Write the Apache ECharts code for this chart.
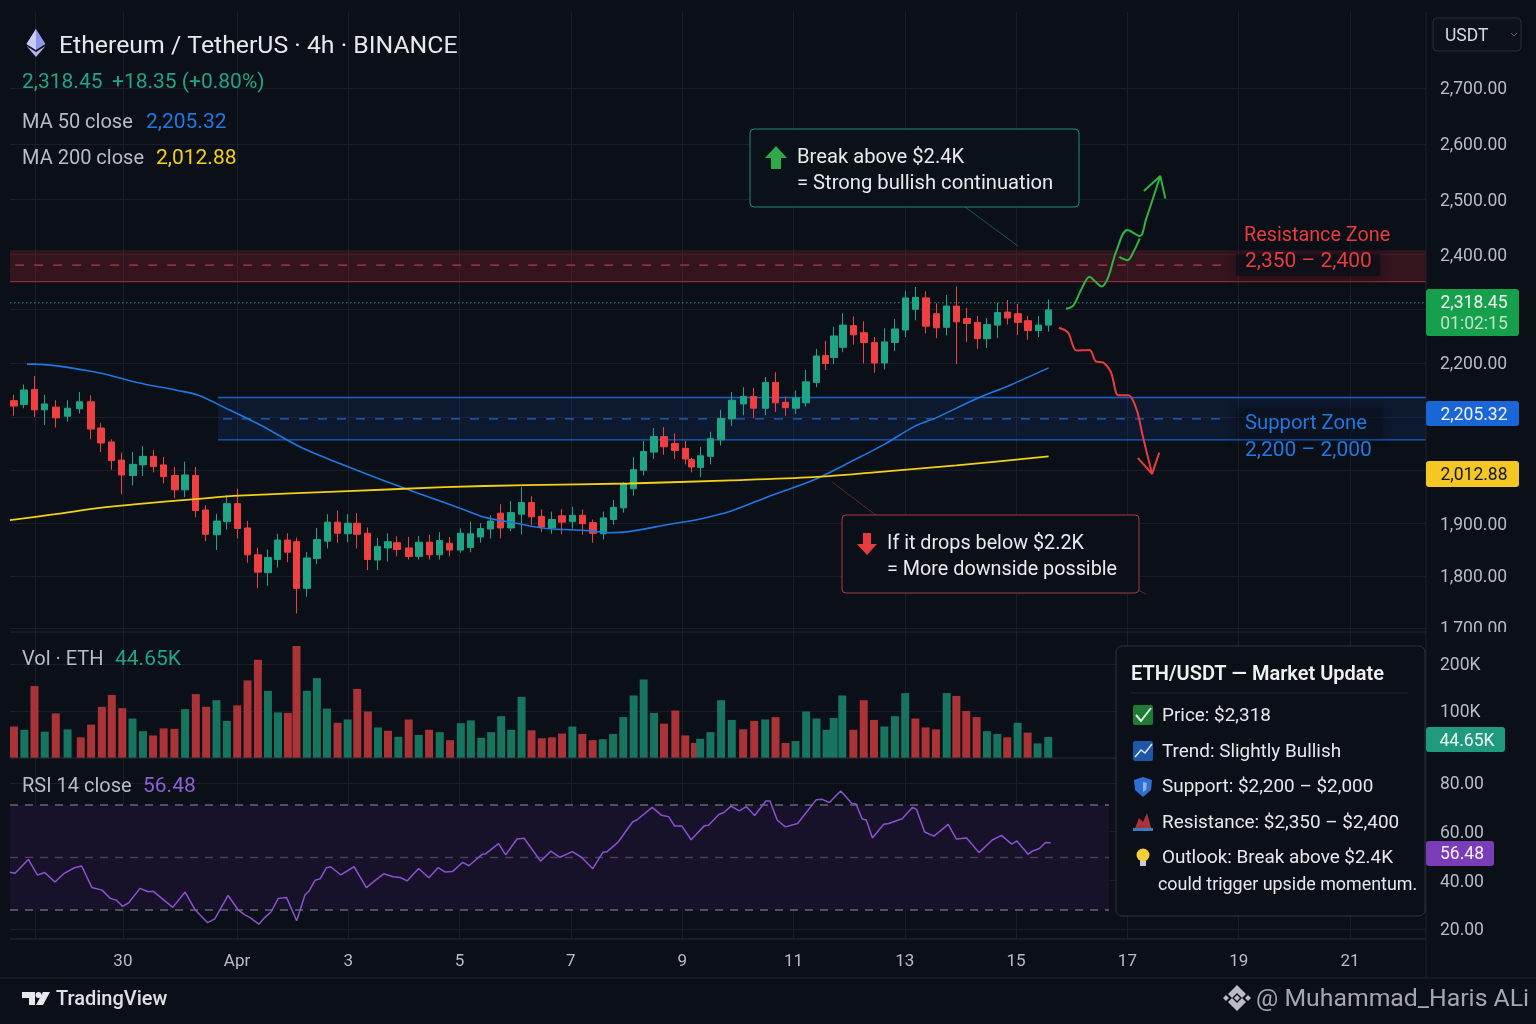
<!DOCTYPE html>
<html><head><meta charset="utf-8"><title>ETH/USDT</title>
<script src="https://cdn.jsdelivr.net/npm/echarts@6/dist/echarts.min.js"></script>
<style>html,body{margin:0;padding:0;background:#0b0f18}#c{width:1536px;height:1024px}</style></head>
<body><div id="c"></div>
<script>
// [open, close, low, high]
const candles = [
[2130,2120,2102,2141],[2123,2150,2116,2160],[2151,2113,2100,2176],[2113,2124,2085,2141],[2118,2098,2080,2131],[2101,2116,2091,2131],[2115,2128,2106,2146],[2128,2077,2058,2140],[2079,2051,2034,2088],[2053,2018,2001,2058],
[2019,1991,1955,2033],[1990,2011,1971,2034],[2010,2026,1989,2045],[2026,2007,1996,2038],[2010,1988,1975,2025],[1990,1963,1947,2006],[1963,1991,1949,2016],[1990,1924,1911,2006],[1925,1879,1866,1934],[1878,1904,1849,1918],
[1903,1937,1888,1953],[1937,1890,1871,1965],[1891,1840,1825,1904],[1840,1807,1776,1853],[1806,1835,1781,1850],[1831,1868,1816,1880],[1868,1845,1826,1881],[1865,1776,1728,1873],[1776,1834,1760,1845],[1833,1869,1822,1891],
[1866,1902,1852,1917],[1902,1881,1863,1924],[1880,1900,1864,1917],[1900,1879,1852,1919],[1881,1831,1811,1892],[1830,1856,1811,1872],[1853,1865,1827,1881],[1863,1850,1837,1875],[1853,1837,1831,1874],[1837,1864,1831,1876],
[1864,1840,1831,1878],[1840,1867,1831,1883],[1862,1849,1837,1874],[1849,1881,1844,1890],[1854,1880,1845,1903],[1874,1890,1863,1900],[1889,1904,1871,1915],[1919,1891,1871,1936],[1891,1920,1885,1942],[1917,1939,1879,1968],
[1939,1912,1897,1951],[1913,1893,1883,1926],[1891,1907,1880,1922],[1914,1902,1879,1927],[1903,1915,1890,1931],[1915,1899,1878,1926],[1901,1881,1863,1907],[1880,1910,1869,1922],[1907,1930,1897,1944],[1929,1975,1920,1978],
[1965,2001,1952,2025],[2000,2035,1990,2055],[2034,2063,2021,2079],[2063,2044,2029,2081],[2050,2037,2021,2069],[2041,2021,2011,2055],[2020,2006,1996,2023],[2005,2027,1987,2044],[2026,2059,2011,2072],[2057,2097,2046,2113],
[2096,2131,2083,2146],[2124,2138,2103,2155],[2138,2116,2097,2154],[2116,2164,2103,2174],[2164,2126,2109,2183],[2127,2117,2102,2138],[2116,2135,2105,2149],[2126,2165,2119,2187],[2164,2213,2155,2226],[2214,2199,2187,2241],
[2210,2250,2198,2267],[2229,2270,2220,2292],[2269,2252,2234,2286],[2256,2238,2199,2277],[2238,2200,2182,2248],[2200,2239,2188,2264],[2238,2263,2222,2281],[2261,2320,2248,2333],[2299,2321,2279,2340],[2320,2268,2255,2332],
[2291,2265,2246,2310],[2266,2305,2251,2325],[2305,2276,2198,2341],[2282,2273,2239,2302],[2275,2245,2226,2287],[2245,2271,2228,2283],[2270,2293,2246,2311],[2294,2283,2271,2316],[2291,2275,2252,2309],[2278,2260,2243,2287],
[2260,2270,2248,2287],[2270,2298,2258,2317]];
// horizontal position of each candle, in bar units
const candleBars = [0,1,2,3,4.1,5.2,6.4,7.5,8.5,9.5,10.5,11.6,12.6,13.6,14.6,15.7,16.7,17.7,18.7,19.8,20.8,21.8,22.8,23.8,24.8,25.7,26.7,27.6,28.6,29.6,30.6,31.6,32.6,33.5,34.5,35.5,36.5,37.4,
38.56,39.54,40.55,41.55,42.53,43.57,44.55,45.56,46.53,47.51,48.52,49.53,50.5,51.51,52.52,53.5,54.5,55.51,56.52,57.53,58.54,59.52,60.49,61.47,62.48,63.45,64.53,65.54,66.15,67,68,69.02,70.1,71.2,72.2,73.35,74.36,
75.33,76.34,77.31,78.32,79.2,80.05,80.93,81.97,82.98,84,85,86,87.04,88.02,89.03,90.04,91.05,92.02,93.03,94.04,94.98,96,97,98.01,99,100,101];

// volume in thousands, 1 = rising bar
const volumes = [67,60,153,56,95,61,44,71,109,134,106,84,57,48,63,62,104,136,109,123,79,112,165,209,143,97,96,238,143,170,105,75,82,147,99,65,58,45,82,49,60,55,38,74,80,43,55,89,60,130,59,42,44,
52,67,51,38,40,51,87,133,167,96,73,101,48,32,41,55,123,81,61,79,82,87,32,36,99,84,60,85,133,60,123,81,67,89,138,84,65,61,138,132,100,87,57,51,44,75,54,31,44.65];
const volumeUp = [0,1,0,1,0,1,0,0,0,0,0,1,1,0,0,0,1,0,0,1,1,0,0,0,1,1,0,0,1,1,1,0,1,0,0,1,0,1,0,1,0,1,0,1,1,1,1,1,1,1,0,0,0,
0,1,0,0,1,1,1,1,1,1,0,0,0,0,1,1,1,1,0,0,1,0,0,1,1,1,1,1,1,0,0,0,1,1,1,0,0,0,1,0,0,0,1,1,0,1,0,1,1];
const volumeBars = [0,1.01,2,3,4.08,5.23,6.52,7.53,8.58,9.55,10.57,11.57,12.59,13.57,14.61,15.66,16.7,17.75,18.76,19.77,20.78,21.79,22.8,23.81,24.79,25.77,26.74,27.58,28.59,29.57,30.55,31.59,32.57,33.51,34.55,35.53,36.51,37.52,38.53,39.51,40.52,41.56,42.57,43.62,44.6,45.61,46.58,47.56,48.54,49.55,50.52,51.53,52.51,
53.5,54.51,55.48,56.49,57.47,58.48,59.48,60.49,61.47,62.48,63.45,64.56,65.53,66.48,66.98,67.99,69.03,70.07,71.18,72.26,73.33,74.34,75.32,76.29,77.33,78.34,79.32,80.02,80.86,81.94,82.95,83.95,84.96,86,87,87.99,88.99,90,91.05,91.99,92.96,93.97,94.98,95.99,96.96,97.97,98.95,99.92,100.96];

const ma50Bars = [1.27,2,8,12,16,18,21,24,28,32,36,40,44,46,49,52,56,58,60,64,67,70,74,78,82,85,88,90,94,97,101];
const ma50Values = [2198,2198,2183,2164,2149,2140,2113,2085,2043,2011,1981,1953,1925,1911,1900,1890,1886,1882,1884,1898,1908,1923,1953,1981,2019,2049,2083,2098,2134,2157,2191];
const ma200Bars = [-0.39,4,8,12,18,22,32,42,50,60,70,78,84,92,101];
const ma200Values = [1906,1917,1928,1936,1946,1952,1960,1968,1972,1975,1981,1987,1996,2009,2026];

const rsiBars = [-0.39,0.1,1.4,2.3,3,4,4.9,5.9,6.6,7.6,8.6,9.4,10,10.6,11.2,12.3,13.1,13.6,15.5,16.7,17.7,18.9,19.6,20.9,21.9,22.5,23,23.9,24.5,25.1,25.8,26.6,27.6,28.4,28.8,29.4,29.9,30.5,30.9,31.9,33.2,34.4,35.2,36.1,37,37.7,38.4,39.5,40.5,41.4,42.1,42.8,43.8,44.4,45.7,46,47.3,48,49.1,49.8,51.4,52.4,53.3,54.5,55.4,56.5,57.5,57.9,58.7,59,60.4,60.8,62.3,63.2,63.9,64.5,65.2,66.1,67.4,67.8,68.8,69.3,70,70.8,71.5,72.3,73.4,73.8,74.5,75.3,76.5,78.3,78.9,79.6,80.7,81.8,82.2,82.8,83.2,83.8,84.9,85.4,86.7,87.7,88.1,88.9,89.8,91.2,92,93,94.2,95.5,96.4,97.4,97.9,99,99.4,100.1,100.7,101.2];
const rsiValues = [43.3,42.9,48.6,42.2,43.2,39.3,42.9,45.2,45.9,37.1,36,32.6,31.8,29.3,30.8,36.7,35.3,35.5,28.9,35.2,27.8,22.6,24.2,33.8,27.8,25.9,24.8,22,24.8,27.1,32.6,33,23.4,34,35.6,40.1,40.7,45.2,45.6,42.3,45.6,37,39.8,42.7,41.5,41.2,39.8,44.9,41.1,45.2,43.4,43.6,47.4,46,50.7,50.8,55.1,50.5,57,57.3,47.9,52,49.5,51.8,49.5,44.8,51.6,51.8,54.7,55.9,64.1,64.8,70,66.8,66.2,62.3,62.3,56.7,62.5,62.7,67.1,67.9,70.5,68.6,70.3,66.7,72.6,72.6,64.8,62,63.4,73.1,73.3,72,76.7,71.6,71.4,65.2,64.8,57.4,63.1,63.4,65.3,70,69.2,59.9,58.2,63,57,57.4,51.4,56.6,58.5,54.9,56.2,50.7,52,53.1,55.6,55.5];

const priceTicks = [2700,2600,2500,2400,2300,2200,2100,2000,1900,1800,1700];
const volumeTicks = [100,200];
const rsiTicks = [20,40,60,80];
const rsiGuides = [70,50,30];
const dayTicks = [-0.05,2,4,6,8,10,12,14,16,18,20,22];
const dayLabels = ['30','Apr','3','5','7','9','11','13','15','17','19','21'];

const resistanceZone = {low:2350, high:2407, mid:2380};
const supportZone = {low:2057, high:2136, mid:2096};
const lastPriceLine = 2311;

const bullBars = [102.7,103.4,104.2,105,105.5,106.2,106.8,107.6,108.7,109.9,110.5,111.9];
const bullPrices = [2300,2306,2336,2359,2351,2341,2357,2405,2444,2433,2463,2542];
const bullLoopBars = [107.9,108.7,109.3,109.9];
const bullLoopPrices = [2395,2389,2405,2429];
const bullHeadBars = [110.3,111.9,112.4];
const bullHeadPrices = [2515,2542,2501];
const bearBars = [102,102.9,103.7,105,105.6,106.3,107.1,107.8,108.8,109.6,110.2,111.1];
const bearPrices = [2265,2256,2223,2224,2203,2201,2182,2140,2140,2113,2063,1993];
const bearHeadBars = [109.7,111.1,111.8];
const bearHeadPrices = [2023,1993,2033];

// The picture's price scale is slightly stretched towards the top.
const scalePrice = p => { const x = p - 1700; return x + 3.846e-5 * x * x; };
const fmtPrice = p => p.toLocaleString('en-US',{minimumFractionDigits:2,maximumFractionDigits:2});

const BG='#0b0f18', GRID='#1a1e29', UP='#1fa585', DOWN='#ee4040', VUP='#17745f', VDOWN='#aa3338', LABEL='#b9bcc4';
const FONT='Roboto';
const XMIN=-0.39, XMAX=137.84;

const valueAxisX = (gridIndex)=>({type:'value',gridIndex,min:XMIN,max:XMAX,show:false,splitLine:{show:false}});
const xAxes = [
  {type:'value',gridIndex:3,min:-2.079,max:23.366,position:'bottom',
   axisLine:{show:false},
   axisTick:{show:false,customValues:[-1.63,...dayTicks]},
   splitLine:{show:true,lineStyle:{color:GRID,width:1}},
   axisLabel:{customValues:dayTicks,margin:14,color:LABEL,fontFamily:FONT,fontSize:17,hideOverlap:false,
     formatter:v=>dayLabels[dayTicks.indexOf(v)]}},
  valueAxisX(0),valueAxisX(1),valueAxisX(2)
];
const rightAxis=(gridIndex,min,max,ticks,formatter)=>({type:'value',gridIndex,position:'right',min,max,
  axisLine:{show:false},
  axisTick:{show:false,customValues:ticks},
  splitLine:{show:true,lineStyle:{color:GRID,width:1}},
  axisLabel:{customValues:ticks,margin:14,align:'left',verticalAlign:'top',lineHeight:4,color:LABEL,fontFamily:FONT,fontSize:17.5,formatter,showMinLabel:true,showMaxLabel:true}
});
const priceAxisTicks = priceTicks.map(scalePrice);
const yAxes=[
  {type:'value',gridIndex:3,min:0,max:1,show:false,splitLine:{show:false}},
  rightAxis(0,-7.69,1184.6,priceAxisTicks,v=>{
     let k=0,b=1e9; priceAxisTicks.forEach((t,i)=>{const d=Math.abs(t-v); if(d<b){b=d;k=i;}});
     return fmtPrice(priceTicks[k]);}),
  rightAxis(1,0,268,volumeTicks,v=>v+'K'),
  rightAxis(2,15.9,90.3,rsiTicks,v=>v.toFixed(2)),
  {type:'value',gridIndex:2,min:18.95,max:87.9,show:false,splitLine:{show:false}}
];

const pairs=(xs,ys,f=v=>v)=>xs.map((x,i)=>[x,f(ys[i])]);
const priceLine=(name,xs,ys,color,width,extra={})=>Object.assign({
  name,type:'line',xAxisIndex:1,yAxisIndex:1,data:pairs(xs,ys,scalePrice),showSymbol:false,symbol:'none',silent:true,
  lineStyle:{color,width},z:4},extra);

const zoneSeries=(name,zone,x0,color,fill,dashColor,dashX1)=>[
  {name,type:'line',xAxisIndex:1,yAxisIndex:1,symbol:'none',silent:true,z:1,
   data:[[x0,scalePrice(zone.low)],[XMAX,scalePrice(zone.low)]],lineStyle:{color,width:1.3},
   markArea:{silent:true,itemStyle:{color:fill},
     data:[[{xAxis:x0,yAxis:scalePrice(zone.low)},{xAxis:XMAX,yAxis:scalePrice(zone.high)}]]}},
  {name:name+' mid',type:'line',xAxisIndex:1,yAxisIndex:1,symbol:'none',silent:true,z:1,
   data:[[x0+0.5,scalePrice(zone.mid)],[dashX1,scalePrice(zone.mid)]],lineStyle:{color:dashColor,width:1.3,type:[9,10]}}
];

const series=[
  ...zoneSeries('Resistance',resistanceZone,XMIN,'#8e2a32','rgba(175,35,45,0.25)','#b8383e',118.7),
  ...zoneSeries('Support',supportZone,19.9,'#1f5fc2','rgba(30,90,190,0.14)','#1f66c8',118.5),
  {name:'Support top',type:'line',xAxisIndex:1,yAxisIndex:1,symbol:'none',silent:true,z:1,
   data:[[19.9,scalePrice(supportZone.high)],[XMAX,scalePrice(supportZone.high)]],lineStyle:{color:'#1f5fc2',width:1.3}},
  {name:'Last price',type:'line',xAxisIndex:1,yAxisIndex:1,symbol:'none',silent:true,z:2,
   data:[[XMIN,scalePrice(lastPriceLine)],[XMAX,scalePrice(lastPriceLine)]],lineStyle:{color:'#1f9a80',width:1,type:[1.5,2.5]}},
  {name:'ETHUSDT',type:'candlestick',xAxisIndex:1,yAxisIndex:1,barWidth:7,z:3,silent:true,
   encode:{x:0,y:[1,2,3,4]},
   data:candles.map((c,i)=>[candleBars[i],...c.map(scalePrice)]),
   itemStyle:{color:UP,color0:DOWN,borderColor:UP,borderColor0:DOWN,borderWidth:1}},
  priceLine('MA 50',ma50Bars,ma50Values,'#1f78e0',1.6,{smooth:0.3}),
  priceLine('MA 200',ma200Bars,ma200Values,'#f4cf17',1.8,{smooth:0.3}),
  priceLine('Bullish path',bullBars,bullPrices,'#2fb344',2,{smooth:0.35,z:5}),
  priceLine('Bullish loop',bullLoopBars,bullLoopPrices,'#2fb344',2,{smooth:0.35,z:5}),
  priceLine('Bullish head',bullHeadBars,bullHeadPrices,'#2fb344',2,{z:5}),
  priceLine('Bearish path',bearBars,bearPrices,'#e83c3c',2,{smooth:0.3,z:5}),
  priceLine('Bearish head',bearHeadBars,bearHeadPrices,'#e83c3c',2,{z:5}),
  {name:'Volume',type:'bar',xAxisIndex:2,yAxisIndex:2,barWidth:8,silent:true,
   data:volumes.map((v,i)=>({value:[volumeBars[i],v],itemStyle:{color:volumeUp[i]?VUP:VDOWN}}))},
  ...rsiGuides.map((g,k)=>({name:'RSI '+g,type:'line',xAxisIndex:3,yAxisIndex:4,symbol:'none',silent:true,z:1,
    data:[[XMIN,g],[106.9,g]],lineStyle:{color:g===50?'#4a4258':'#6b6478',width:1.3,type:[8,7]},
    markArea:k===0?{silent:true,itemStyle:{color:'#171129'},data:[[{xAxis:XMIN,yAxis:30},{xAxis:106.9,yAxis:70}]]}:undefined})),
  {name:'RSI',type:'line',xAxisIndex:3,yAxisIndex:3,symbol:'none',silent:true,z:3,
   data:pairs(rsiBars,rsiValues),lineStyle:{color:'#8a52d0',width:1.5}}
];

// ---------- text and furniture
const Z=100;
const t=(x,y,text,size,fill,o={})=>({type:'text',z:o.z||Z,x,y:y+2,silent:true,
  style:{text,fontFamily:FONT,fontSize:size,fill,fontWeight:o.w||400,textAlign:o.a||'left',textVerticalAlign:'middle'}});
const r=(x,y,w,h,fill,o={})=>({type:'rect',z:o.z||Z,silent:true,shape:{x,y,width:w,height:h,r:o.r||0},
  style:{fill,stroke:o.s||null,lineWidth:o.lw||1,shadowBlur:o.blur||0,shadowColor:o.shadow||'transparent'}});
const l=(x1,y1,x2,y2,stroke,o={})=>({type:'line',z:o.z||Z,silent:true,shape:{x1,y1,x2,y2},style:{stroke,lineWidth:o.lw||1}});
const poly=(pts,fill,o={})=>({type:'polygon',z:o.z||Z,silent:true,shape:{points:pts},style:{fill,stroke:o.s||null,lineWidth:o.lw||1,opacity:o.op==null?1:o.op}});
const pl=(pts,stroke,o={})=>({type:'polyline',z:o.z||Z,silent:true,shape:{points:pts},style:{stroke,fill:null,lineWidth:o.lw||2}});

const graphics=[
  // panel rules
  l(10,632,1426,632,'#20242e',{z:5}),l(10,758,1426,758,'#2a2e38',{z:5}),l(10,939,1426,939,'#2a2e38',{z:5}),
  l(0,978,1536,978,'#1f232c',{z:5}),l(1426,12,1426,978,'#1f232c',{z:5}),
  // clip of the last price label
  r(1428,632,108,12,BG,{z:60}),
  // header
  poly([[36,29],[45.5,44],[36,50],[26.5,44]],'#8f96e8'),
  poly([[36,29],[36,50],[26.5,44]],'#c9ccf6'),
  poly([[26.5,46],[36,52],[45.5,46],[36,57]],'#aeb3ef'),
  t(59,44.5,'Ethereum / TetherUS · 4h · BINANCE',24.8,'#e6e8ec'),
  t(22,81,'2,318.45',21,UP),t(112,81,'+18.35 (+0.80%)',21,UP),
  t(22,121,'MA 50 close',20,LABEL),t(146,121,'2,205.32',21,'#1f78e0'),
  t(22,157,'MA 200 close',20,LABEL),t(156,157,'2,012.88',21,'#f4cf17'),
  t(22,658,'Vol · ETH',20,LABEL),t(115,658,'44.65K',21,UP),
  t(22,785,'RSI 14 close',20,LABEL),t(143,785,'56.48',21,'#8f5fd6'),
  // currency box
  r(1433,18,88,33,'#0d111a',{r:4,s:'#2a2e38'}),t(1445,35,'USDT',17.5,'#d8dade'),pl([[1511,33],[1514,36],[1517,33]],'#5d616b',{lw:1}),
  // callouts
  l(965,207,1018,246,'#145a50',{lw:1}),
  r(750,129,329,78,'#0b1119',{r:4,s:'#1d8f7a',lw:1}),
  poly([[776,146],[787,158],[781,158],[781,169],[771,169],[771,158],[765,158]],'#2fa84a'),
  t(797,156,'Break above $2.4K',20.2,'#e8eaed'),t(797,182,'= Strong bullish continuation',20.2,'#e8eaed'),
  l(832,482,877,516,'#5a2a2c',{lw:1}),l(1138,590,1146,594,'#5a2a2c',{lw:1}),
  r(842,515,297,78,'#0b0f18',{r:4,s:'#b0383c',lw:1}),
  poly([[867,555],[857,544],[863,544],[863,533],[871,533],[871,544],[877,544]],'#e83c3c'),
  t(887,542,'If it drops below $2.2K',19.8,'#e8eaed'),t(887,568,'= More downside possible',19.8,'#e8eaed'),
  // zone labels
  r(1236,254,144,22,'rgba(11,15,24,0.65)',{z:20,blur:10,shadow:BG}),
  r(1235,408,148,30,'rgba(11,15,24,0.35)',{z:20,blur:10,shadow:BG}),
  t(1244,234,'Resistance Zone',19.8,'#e83c3c'),t(1245,260,'2,350 – 2,400',21,'#e83c3c'),
  t(1245,422,'Support Zone',20.3,'#1f78e0'),t(1245,449,'2,200 – 2,000',21,'#1f78e0'),
  // price tags
  r(1426,289,93,47,'#17a04c',{r:3}),t(1474,302,'2,318.45',17.5,'#f2f6f3',{a:'center'}),t(1474,323,'01:02:15',17.5,'#bfe3cb',{a:'center'}),
  r(1426,401,93,25,'#1a66d6',{r:3}),t(1474,414,'2,205.32',17.5,'#f0f4fc',{a:'center'}),
  r(1426,461,93,26,'#f5c724',{r:3}),t(1474,474,'2,012.88',17.5,'#13161d',{a:'center'}),
  r(1426,727,79,25,'#1f9a7c',{r:3}),t(1467,740,'44.65K',17.5,'#eefaf6',{a:'center'}),
  r(1426,841,68,25,'#7a3db8',{r:3}),t(1462,853,'56.48',17.5,'#f5effc',{a:'center'}),
  // market panel
  r(1116,646,309,270,'#0b0f18',{r:6,s:'#2e323c',z:40}),
  t(1131,673,'ETH/USDT — Market Update',20,'#f0f1f3',{w:600,z:41}),
  l(1131,693,1408,693,'#23272f',{z:41}),
  r(1133,705,20,20,'#1e7a34',{r:2,z:41}),pl([[1136,715],[1141,721],[1151,708]],'#d7f3dc',{z:42}),
  r(1133,741,20,20,'#1f56a8',{r:2,z:41}),pl([[1135,757],[1141,750],[1145,753],[1152,744]],'#dfe7f4',{z:42,lw:1.5}),
  poly([[1143,777],[1152,780],[1151,790],[1143,797],[1135,790],[1134,780]],'#2f6fd4',{z:41}),poly([[1143,782],[1147,783],[1146,790],[1143,792]],'#8fb0ea',{z:42}),
  poly([[1134,831],[1139,818],[1143,822],[1147,813],[1152,831]],'#a8343a',{z:41}),r(1133,828,20,3,'#3a7bbf',{z:42}),
  {type:'circle',z:41,silent:true,shape:{cx:1143,cy:855,r:6.5},style:{fill:'#f4cf3a'}},r(1140,861,6,5,'#c9cbd6',{z:41}),
  t(1162,714,'Price: $2,318',18.9,'#e6e8ec',{z:41}),
  t(1162,750,'Trend: Slightly Bullish',18.9,'#e6e8ec',{z:41}),
  t(1162,785,'Support: $2,200 – $2,000',18.9,'#e6e8ec',{z:41}),
  t(1162,821,'Resistance: $2,350 – $2,400',18.9,'#e6e8ec',{z:41}),
  t(1162,856,'Outlook: Break above $2.4K',18.9,'#e6e8ec',{z:41}),
  t(1158,884,'could trigger upside momentum.',17.9,'#e6e8ec',{z:41}),
  // footer
  poly([[22,992],[35,992],[35,1005],[29,1005],[29,998],[22,998]],'#e6e8ec'),
  {type:'circle',z:Z,silent:true,shape:{cx:38.5,cy:995,r:3},style:{fill:'#e6e8ec'}},
  poly([[43,992],[50,992],[43,1005],[36,1005]],'#e6e8ec'),
  t(56,998,'TradingView',20,'#dfe1e5',{w:500}),
  poly([[1237,985],[1246,994],[1242,998],[1237,993],[1232,998],[1228,994]],'#b9bcc4'),
  poly([[1237,1011],[1246,1002],[1242,998],[1237,1003],[1232,998],[1228,1002]],'#b9bcc4'),
  poly([[1237,995],[1240,998],[1237,1001],[1234,998]],'#b9bcc4'),
  poly([[1226,995],[1229,998],[1226,1001],[1223,998]],'#b9bcc4'),
  poly([[1248,995],[1251,998],[1248,1001],[1245,998]],'#b9bcc4'),
  t(1256,998,'@ Muhammad_Haris ALi',24.8,'#a4a7ae')
];

const chart=echarts.init(document.getElementById('c'),null,{renderer:'canvas'});
chart.setOption({
  animation:false,backgroundColor:BG,
  grid:[
    {left:10,width:1416,top:12,height:620},
    {left:10,width:1416,top:632,height:126},
    {left:10,width:1416,top:758,height:181},
    {left:10,width:1416,top:12,height:927}
  ],
  xAxis:xAxes,yAxis:yAxes,series,graphic:graphics
});
</script></body></html>
